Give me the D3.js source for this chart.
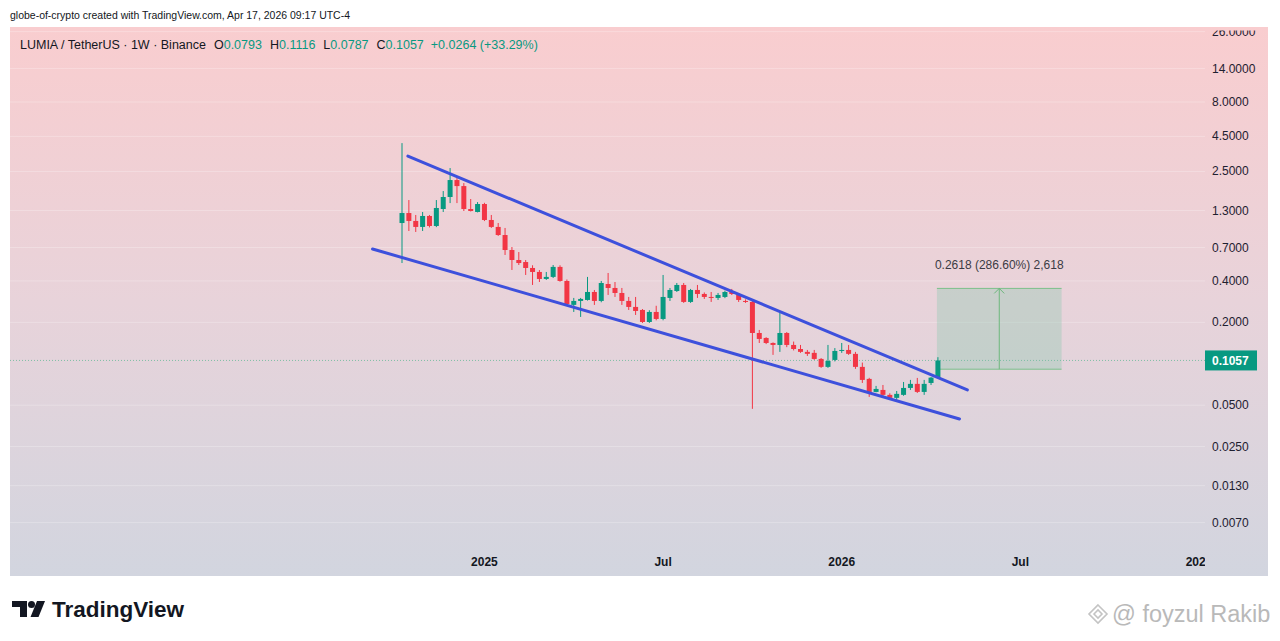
<!DOCTYPE html>
<html>
<head>
<meta charset="utf-8">
<script src="https://cdn.jsdelivr.net/npm/d3@7"></script>
<style>
  html, body { margin: 0; padding: 0; background: #fff; }
  svg { display: block; font-family: "Liberation Sans", Arial, sans-serif; }
</style>
</head>
<body>
<div id="chart"></div>
<script>
// weekly candles LUMIA/USDT, first week 2024-10-14
var firstWeek = "2024-10-14";
var lastWeek = "2026-04-13";

var opens = [1.055, 1.247, 1.092, 0.988, 1.187, 1.004, 1.334, 1.631, 2.166, 1.958,
  1.334, 1.269, 1.450, 1.110, 0.988, 0.863, 0.6715, 0.568, 0.549, 0.497,
  0.465, 0.4135, 0.428, 0.506, 0.400, 0.268, 0.2862, 0.291, 0.3326, 0.2862,
  0.380, 0.3556, 0.327, 0.2862, 0.2589, 0.2461, 0.2013, 0.238, 0.2117, 0.301,
  0.338, 0.374, 0.2815, 0.3439, 0.3217, 0.306, 0.301, 0.306, 0.3326, 0.3164,
  0.2862, 0.2815, 0.1674, 0.154, 0.1416, 0.137, 0.1674, 0.137, 0.128, 0.122,
  0.120, 0.1084, 0.0949, 0.1066, 0.1239, 0.126, 0.118, 0.0949, 0.0776, 0.0624,
  0.0645, 0.0594, 0.0565, 0.0594, 0.0667, 0.0714, 0.0624, 0.0725, 0.0793];

var highs = [4.02, 1.550, 1.207, 1.269, 1.207, 1.550, 1.802, 2.648, 2.240, 2.059,
  1.577, 1.498, 1.480, 1.207, 1.055, 0.971, 0.706, 0.649, 0.568, 0.520,
  0.480, 0.465, 0.5225, 0.520, 0.410, 0.301, 0.301, 0.428, 0.3439, 0.400,
  0.457, 0.393, 0.3556, 0.306, 0.306, 0.250, 0.245, 0.264, 0.442, 0.3556,
  0.3865, 0.3865, 0.350, 0.374, 0.330, 0.3326, 0.327, 0.340, 0.350, 0.325,
  0.294, 0.290, 0.1761, 0.156, 0.143, 0.234, 0.170, 0.145, 0.137, 0.126,
  0.126, 0.110, 0.137, 0.130, 0.1416, 0.137, 0.122, 0.102, 0.079, 0.069,
  0.0701, 0.061, 0.0634, 0.0737, 0.0763, 0.0789, 0.0763, 0.080, 0.1116];

var lows = [0.540, 0.923, 0.908, 0.923, 0.980, 0.985, 1.269, 1.473, 1.473, 1.290,
  1.280, 1.260, 1.090, 0.972, 0.850, 0.618, 0.4806, 0.5225, 0.442, 0.374,
  0.393, 0.407, 0.420, 0.395, 0.264, 0.238, 0.219, 0.288, 0.2677, 0.280,
  0.3164, 0.306, 0.2677, 0.2461, 0.2263, 0.198, 0.198, 0.207, 0.207, 0.2862,
  0.3326, 0.277, 0.277, 0.301, 0.296, 0.2815, 0.291, 0.300, 0.316, 0.2815,
  0.277, 0.0470, 0.1416, 0.139, 0.116, 0.122, 0.132, 0.125, 0.120, 0.114,
  0.1066, 0.0933, 0.0933, 0.104, 0.120, 0.116, 0.0918, 0.0725, 0.0574, 0.062,
  0.0574, 0.0546, 0.0546, 0.0585, 0.0645, 0.0613, 0.0594, 0.0701, 0.0787];

var closes = [1.247, 1.092, 0.988, 1.187, 1.004, 1.357, 1.631, 2.166, 1.958, 1.334,
  1.290, 1.450, 1.110, 0.988, 0.863, 0.6715, 0.5681, 0.540, 0.497, 0.465,
  0.4135, 0.428, 0.506, 0.400, 0.272, 0.2862, 0.296, 0.3326, 0.2862, 0.3865,
  0.3556, 0.327, 0.2862, 0.2589, 0.242, 0.2013, 0.238, 0.2117, 0.306, 0.3439,
  0.374, 0.2815, 0.3439, 0.3217, 0.306, 0.301, 0.3164, 0.3326, 0.3217, 0.2910,
  0.2815, 0.1674, 0.1515, 0.1416, 0.137, 0.1674, 0.137, 0.128, 0.122, 0.118,
  0.1084, 0.0949, 0.1048, 0.1239, 0.126, 0.118, 0.0949, 0.0763, 0.0624, 0.0656,
  0.0594, 0.0565, 0.0604, 0.0667, 0.0714, 0.0624, 0.0714, 0.0793, 0.1057];

// price scale ticks
var yTicks = [26, 14, 8, 4.5, 2.5, 1.3, 0.7, 0.4, 0.2, 0.05, 0.025, 0.013, 0.007];
// time scale ticks (first weekly bar of each period)
var xTickDates = ["2025-01-06", "2025-07-07", "2026-01-05", "2026-07-06", "2027-01-04"];
var xTickLabels = ["2025", "Jul", "2026", "Jul", "2027"];

// drawings: falling wedge + price range
var upperLine = [{date: "2024-10-20", price: 3.236}, {date: "2026-05-13", price: 0.0645}];
var lowerLine = [{date: "2024-09-14", price: 0.683}, {date: "2026-05-05", price: 0.0397}];
var rangeDates = ["2026-04-12", "2026-08-17"];
var rangePrices = [0.0913, 0.3531];
var rangeLabel = "0.2618 (286.60%) 2,618";

var W = 1280, H = 641;
var pane = {left: 10, top: 27, right: 1268, bottom: 576};
var plotRight = 1205;

var parse = d3.utcParse("%Y-%m-%d");
var weeks = d3.utcMonday.range(parse(firstWeek), d3.utcDay.offset(parse(lastWeek), 1));
var candles = weeks.map(function(d, i) {
    return {date: d, o: opens[i], h: highs[i], l: lows[i], c: closes[i]};
});

var x = d3.scaleUtc()
    .domain([parse(firstWeek), parse("2027-01-04")])
    .range([402, 1199]);
var y = d3.scaleLog()
    .domain([0.007, 26])
    .range([522.6, 31.6]);

var svg = d3.select("#chart").append("svg")
    .attr("width", W).attr("height", H);

var defs = svg.append("defs");
var grad = defs.append("linearGradient").attr("id", "bg")
    .attr("x1", 0).attr("y1", 0).attr("x2", 0).attr("y2", 1);
grad.append("stop").attr("offset", "0%").attr("stop-color", "#f9cdcf");
grad.append("stop").attr("offset", "50%").attr("stop-color", "#e8d3da");
grad.append("stop").attr("offset", "100%").attr("stop-color", "#d2d5df");

defs.append("clipPath").attr("id", "plotClip").append("rect")
    .attr("x", pane.left).attr("y", pane.top)
    .attr("width", plotRight - pane.left).attr("height", pane.bottom - pane.top);
defs.append("clipPath").attr("id", "scaleClip").append("rect")
    .attr("x", plotRight).attr("y", 30.5)
    .attr("width", pane.right - plotRight).attr("height", pane.bottom - 30.5);

svg.append("text")
    .attr("x", 10).attr("y", 19)
    .attr("font-size", 11).attr("fill", "#131722")
    .attr("textLength", 340).attr("lengthAdjust", "spacingAndGlyphs")
    .text("globe-of-crypto created with TradingView.com, Apr 17, 2026 09:17 UTC-4");

svg.append("rect")
    .attr("x", pane.left).attr("y", pane.top)
    .attr("width", pane.right - pane.left).attr("height", pane.bottom - pane.top)
    .attr("fill", "url(#bg)");

var plot = svg.append("g").attr("clip-path", "url(#plotClip)");

// grid
plot.selectAll(".grid").data(yTicks).enter().append("line")
    .attr("x1", pane.left).attr("x2", plotRight)
    .attr("y1", function(d) { return y(d); }).attr("y2", function(d) { return y(d); })
    .attr("stroke", "#ffffff").attr("stroke-opacity", 0.25);

// legend
var up = "#089981", down = "#f23645";
var legend = svg.append("text").attr("x", 20).attr("y", 49).attr("font-size", 12.5).attr("fill", "#131722");
legend.append("tspan").text("LUMIA / TetherUS \u00b7 1W \u00b7 Binance");
[["O", "0.0793"], ["H", "0.1116"], ["L", "0.0787"], ["C", "0.1057"]].forEach(function(p) {
    legend.append("tspan").attr("dx", 8).text(p[0]);
    legend.append("tspan").attr("fill", up).text(p[1]);
});
legend.append("tspan").attr("dx", 7).attr("fill", up).text("+0.0264 (+33.29%)");

// price range box
var rx0 = x(parse(rangeDates[0])), rx1 = x(parse(rangeDates[1]));
var ry0 = y(rangePrices[1]), ry1 = y(rangePrices[0]);
plot.append("rect")
    .attr("x", rx0).attr("y", ry0).attr("width", rx1 - rx0).attr("height", ry1 - ry0)
    .attr("fill", "rgba(130,200,170,0.32)");
plot.selectAll(".rangeEdge").data(rangePrices).enter().append("line")
    .attr("x1", rx0).attr("x2", rx1)
    .attr("y1", function(d) { return y(d); }).attr("y2", function(d) { return y(d); })
    .attr("stroke", "#7cc08a").attr("stroke-width", 1);
var rmid = (rx0 + rx1) / 2;
plot.append("line")
    .attr("x1", rmid).attr("x2", rmid).attr("y1", ry1).attr("y2", ry0)
    .attr("stroke", "#6cb87c").attr("stroke-width", 1);
plot.append("path")
    .attr("d", "M" + (rmid - 5) + "," + (ry0 + 5) + "L" + rmid + "," + ry0 + "L" + (rmid + 5) + "," + (ry0 + 5))
    .attr("fill", "none").attr("stroke", "#6cb87c").attr("stroke-width", 1);
plot.append("text")
    .attr("x", rmid).attr("y", ry0 - 19)
    .attr("text-anchor", "middle").attr("font-size", 12).attr("fill", "#3b3b44")
    .text(rangeLabel);

// last price dotted line
var last = candles[candles.length - 1];
plot.append("line")
    .attr("x1", pane.left).attr("x2", plotRight)
    .attr("y1", y(last.c)).attr("y2", y(last.c))
    .attr("stroke", "#7fbfa5").attr("stroke-width", 1).attr("stroke-dasharray", "1,2");

// candles
var bodyW = 5;
var cg = plot.selectAll(".candle").data(candles).enter().append("g");
cg.append("line")
    .attr("x1", function(d) { return x(d.date); }).attr("x2", function(d) { return x(d.date); })
    .attr("y1", function(d) { return y(d.h); }).attr("y2", function(d) { return y(d.l); })
    .attr("stroke", function(d) { return d.c >= d.o ? up : down; })
    .attr("stroke-width", 1);
cg.append("rect")
    .attr("x", function(d) { return x(d.date) - bodyW / 2; })
    .attr("width", bodyW)
    .attr("y", function(d) { return y(Math.max(d.o, d.c)); })
    .attr("height", function(d) { return Math.max(1, Math.abs(y(d.o) - y(d.c))); })
    .attr("fill", function(d) { return d.c >= d.o ? up : down; });

// wedge lines
var tl = d3.line()
    .x(function(d) { return x(parse(d.date)); })
    .y(function(d) { return y(d.price); });
[upperLine, lowerLine].forEach(function(l) {
    plot.append("path").datum(l).attr("d", tl)
        .attr("fill", "none").attr("stroke", "#3d50dc").attr("stroke-width", 3)
        .attr("stroke-linecap", "round");
});

// x axis labels
var xa = svg.append("g").attr("clip-path", "url(#plotClip)");
xa.selectAll("text").data(xTickDates).enter().append("text")
    .attr("x", function(d) { return x(parse(d)); })
    .attr("y", 566)
    .attr("text-anchor", "middle").attr("font-size", 12).attr("font-weight", "bold")
    .attr("fill", "#131722")
    .text(function(d, i) { return xTickLabels[i]; });

// y axis labels
var ya = svg.append("g").attr("clip-path", "url(#scaleClip)");
ya.selectAll("text").data(yTicks).enter().append("text")
    .attr("x", 1212).attr("y", function(d) { return y(d) + 4; })
    .attr("font-size", 12).attr("fill", "#1e2030")
    .text(function(d) { return d3.format(".4f")(d); });

ya.append("rect")
    .attr("x", 1205).attr("y", y(last.c) - 10).attr("width", 52).attr("height", 20)
    .attr("fill", up);
ya.append("text")
    .attr("x", 1212).attr("y", y(last.c) + 4.5)
    .attr("font-size", 12).attr("font-weight", "bold").attr("fill", "#ffffff")
    .text(d3.format(".4f")(last.c));

// TradingView logo
var logo = svg.append("g").attr("fill", "#131722");
logo.append("path").attr("d", "M12,601H27V617H20V607H12Z");
logo.append("circle").attr("cx", 31.5).attr("cy", 604.5).attr("r", 3.5);
logo.append("path").attr("d", "M37,601H45L38.5,617H30.5Z");
svg.append("text")
    .attr("x", 52).attr("y", 616.5)
    .attr("font-size", 22.5).attr("font-weight", "bold").attr("fill", "#131722")
    .text("TradingView");

// watermark
var wm = svg.append("g").attr("fill", "none").attr("stroke", "#c4c4c4").attr("stroke-width", 1.6);
wm.append("path").attr("d", "M1098,605L1107,614L1098,623L1089,614Z");
wm.append("path").attr("d", "M1094,614L1098,610L1102,614L1098,618Z");
svg.append("text")
    .attr("x", 1112).attr("y", 622)
    .attr("font-size", 23.5).attr("fill", "#b9b9b9")
    .text("@ foyzul Rakib");
</script>
</body>
</html>
